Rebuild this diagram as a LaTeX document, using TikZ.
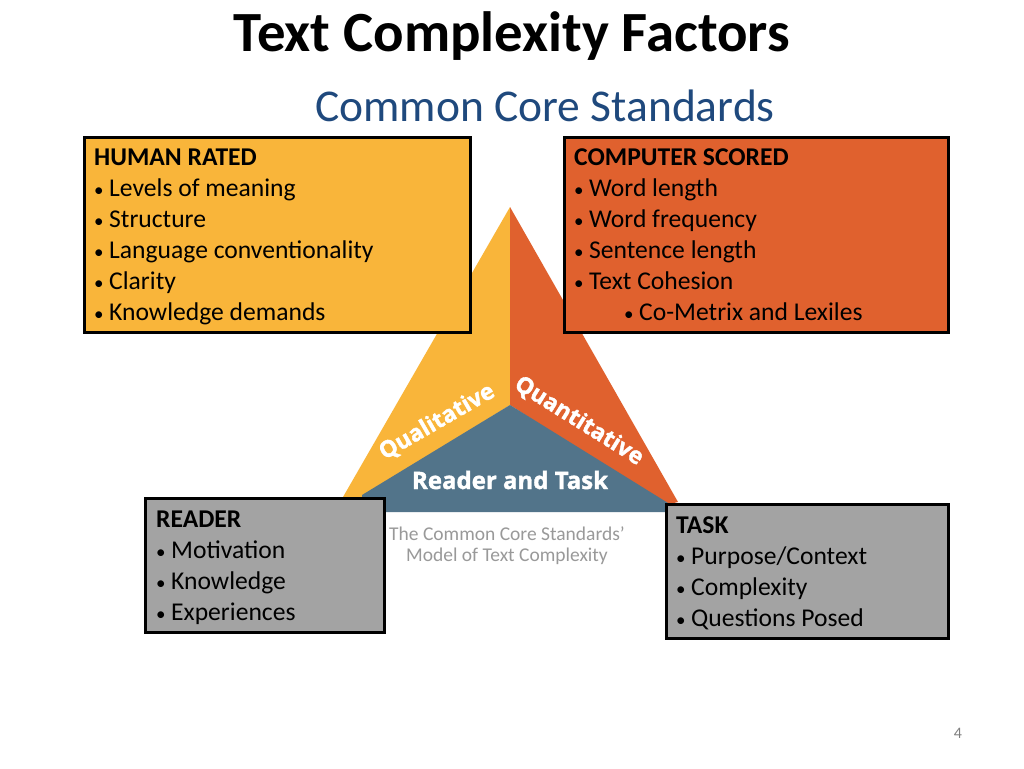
\documentclass[tikz,border=0pt]{standalone}
\usepackage{fontspec}
\setmainfont{Carlito}
\newfontfamily\trifont[BoldFeatures={FakeBold=1.5}]{Open Sans}
\definecolor{qualc}{HTML}{F9B53A}
\definecolor{quanc}{HTML}{E0612E}
\definecolor{bluec}{HTML}{52748A}
\definecolor{grayc}{HTML}{A3A3A3}
\definecolor{subc}{HTML}{1F497D}
\newcommand{\bul}{\makebox[15pt][l]{{\fontsize{19}{19}\selectfont\raisebox{0.5pt}{•}}}}
\tikzset{x=1pt,y=-1pt,
 infobox/.style={draw=black,line width=3pt,inner sep=0pt},
 boxtext/.style={anchor=north west,align=left,inner sep=0pt,font=\fontsize{25.6}{31}\selectfont,text=black},
 ontri/.style={text=white,inner sep=0pt,font=\trifont\bfseries\fontsize{23}{26}\selectfont},
 capt/.style={text=black!40,inner sep=0pt,align=center,font=\fontsize{19.5}{21}\selectfont}}
\begin{document}
\begin{tikzpicture}
\useasboundingbox (0,0) rectangle (1024,768);
\fill[white] (0,0) rectangle (1024,768);
% triangle
\fill[qualc] (510,207) -- (510,405) -- (362,497) -- (343,497) -- cycle;
\fill[quanc] (510,207) -- (678,502) -- (665,505) -- (510,405) -- cycle;
\fill[bluec] (510,405) -- (362,495) -- (362,512) -- (668,512) -- (668,503) -- cycle;
\node[ontri,rotate=30] (qual) at (437,422) {Qualitative};
\node[ontri,rotate=-32] (quan) at (579,421) {Quantitative};
\node[ontri,font=\trifont\bfseries\fontsize{24}{26}\selectfont] (rt) at (510,480) {Reader and Task};
\node[capt] (cap) at (507,546) {The Common Core Standards’\\Model of Text Complexity};
% titles
\node[inner sep=0pt,font=\bfseries\fontsize{56.8}{64}\selectfont] (title) at (512,36) {Text Complexity Factors};
\node[inner sep=0pt,text=subc,font=\fontsize{45.5}{52}\selectfont] (sub) at (545,106) {Common Core Standards};
% boxes
\draw[infobox,fill=qualc] (84,137) rectangle (470,332);
\node[boxtext] (a) at (94,149) {\textbf{HUMAN RATED}\\\bul Levels of meaning\\\bul Structure\\\bul Language conventionality\\\bul Clarity\\\bul Knowledge demands};
\draw[infobox,fill=quanc] (564,137) rectangle (948,332);
\node[boxtext] (b) at (574,149) {\textbf{COMPUTER SCORED}\\\bul Word length\\\bul Word frequency\\\bul Sentence length\\\bul Text Cohesion\\\hspace*{50pt}\bul Co-Metrix and Lexiles};
\draw[infobox,fill=grayc] (145,498) rectangle (384,632);
\node[boxtext] (c) at (156,511) {\textbf{READER}\\\bul Motivation\\\bul Knowledge\\\bul Experiences};
\draw[infobox,fill=grayc] (666,504) rectangle (948,638);
\node[boxtext] (d) at (676,517) {\textbf{TASK}\\\bul Purpose/Context\\\bul Complexity\\\bul Questions Posed};
\node[inner sep=0pt,text=black!50,font=\fontsize{16}{20}\selectfont] (num) at (958,733) {4};
\end{tikzpicture}
\end{document}
